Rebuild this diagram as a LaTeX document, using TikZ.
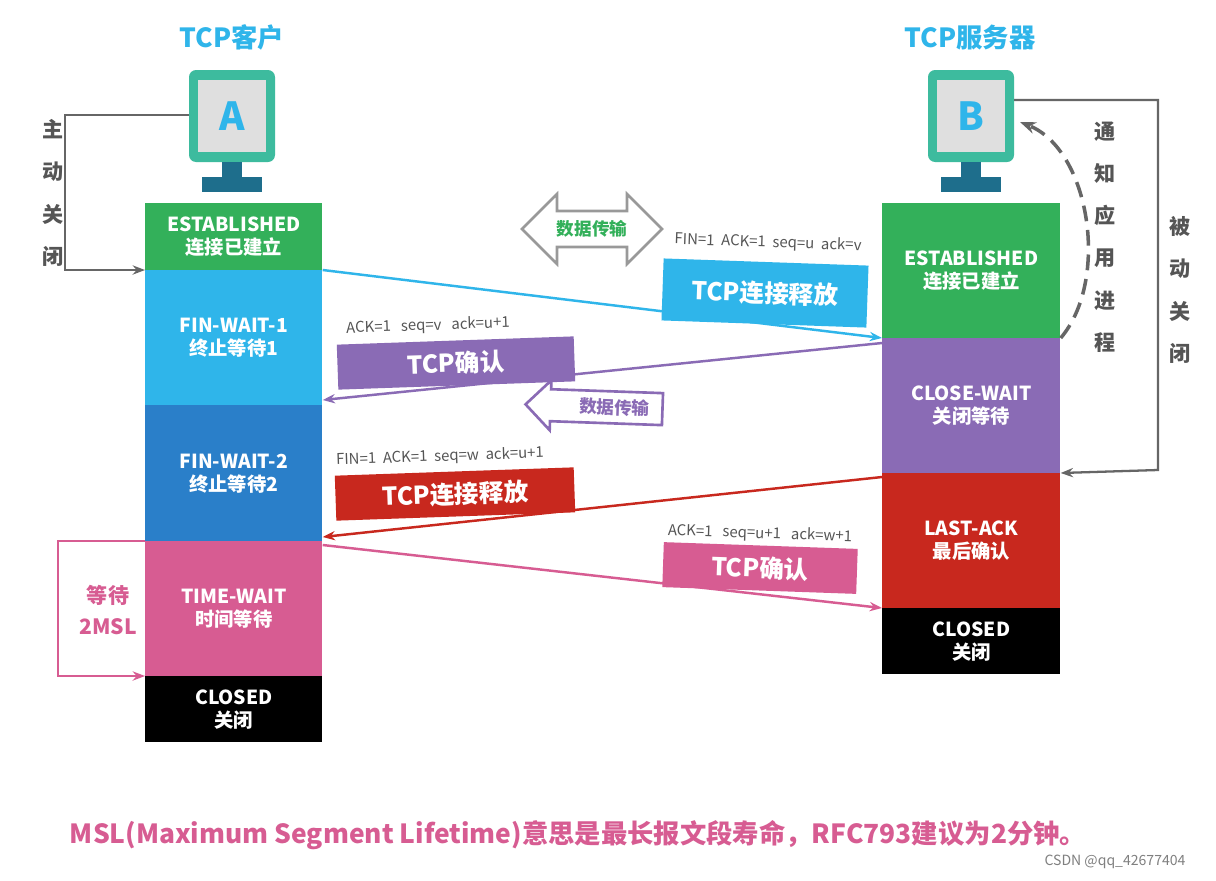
\documentclass[tikz,border=0pt]{standalone}
\usepackage{fontspec}
\setmainfont{Noto Sans CJK SC}
\usetikzlibrary{arrows.meta,shapes.arrows}
\definecolor{cgreen}{HTML}{33B05A}
\definecolor{clblue}{HTML}{2FB5EA}
\definecolor{cblue}{HTML}{2A7FC9}
\definecolor{cpink}{HTML}{D75C92}
\definecolor{cpurple}{HTML}{8A6BB5}
\definecolor{cred}{HTML}{C8281E}
\definecolor{cteal}{HTML}{3DBB9E}
\definecolor{cstand}{HTML}{1E6E8C}
\definecolor{cgray}{HTML}{555555}
\begin{document}
\begin{tikzpicture}[x=0.02cm,y=-0.02cm,
 st/.style={draw=none,inner sep=0pt,text=white,align=center,font=\bfseries\fontsize{11}{13}\selectfont},
 msg/.style={inner sep=0pt,text=white,font=\bfseries\fontsize{14}{16}\selectfont},
 lab/.style={inner sep=0pt,text=cgray,font=\fontsize{8.5}{9}\selectfont},
 vt/.style={inner sep=0pt,text=cgray,align=center,font=\bfseries\fontsize{12}{24}\selectfont},
 ln/.style={line width=1.4pt,-{Stealth[length=7pt]}}]
\useasboundingbox (0,0) rectangle (1216,880);
\fill[white] (0,0) rectangle (1216,880);
% titles
\node[text=clblue,font=\bfseries\fontsize{15}{17}\selectfont] (tA) at (232,37) {TCP客户};
\node[text=clblue,font=\bfseries\fontsize{15}{17}\selectfont] (tB) at (970,37) {TCP服务器};
% monitors
\foreach \c/\l in {232/A,971/B}{
 \fill[cteal,rounded corners=4pt] (\c-43,70) rectangle (\c+43,162);
 \fill[gray!25] (\c-34,80) rectangle (\c+34,152);
 \node[text=clblue,font=\bfseries\fontsize{22}{24}\selectfont] at (\c,116) {\l};
 \fill[cstand] (\c-10,162) rectangle (\c+10,177);
 \fill[cstand] (\c-30,177) rectangle (\c+30,192);
}
\coordinate (mA) at (189,115);
\coordinate (mB) at (1014,100);
\coordinate (mB2) at (1020,122);
% left states
\node[st,fill=cgreen,minimum width=177*0.02cm,minimum height=67*0.02cm,anchor=north west] (a1) at (145,203) {ESTABLISHED\\连接已建立};
\node[st,fill=clblue,minimum width=177*0.02cm,minimum height=135*0.02cm,anchor=north west] (a2) at (145,270) {FIN-WAIT-1\\终止等待1};
\node[st,fill=cblue,minimum width=177*0.02cm,minimum height=136*0.02cm,anchor=north west] (a3) at (145,405) {FIN-WAIT-2\\终止等待2};
\node[st,fill=cpink,minimum width=177*0.02cm,minimum height=135*0.02cm,anchor=north west] (a4) at (145,541) {TIME-WAIT\\时间等待};
\node[st,fill=black,minimum width=177*0.02cm,minimum height=66*0.02cm,anchor=north west] (a5) at (145,676) {CLOSED\\关闭};
% right states
\node[st,fill=cgreen,minimum width=178*0.02cm,minimum height=135*0.02cm,anchor=north west] (b1) at (882,203) {ESTABLISHED\\连接已建立};
\node[st,fill=cpurple,minimum width=178*0.02cm,minimum height=135*0.02cm,anchor=north west] (b2) at (882,338) {CLOSE-WAIT\\关闭等待};
\node[st,fill=cred,minimum width=178*0.02cm,minimum height=135*0.02cm,anchor=north west] (b3) at (882,473) {LAST-ACK\\最后确认};
\node[st,fill=black,minimum width=178*0.02cm,minimum height=66*0.02cm,anchor=north west] (b4) at (882,608) {CLOSED\\关闭};
% message boxes
\node[msg,fill=clblue,minimum width=205*0.02cm,minimum height=62*0.02cm,rotate=-2] (m1) at (765,293) {TCP连接释放};
\node[msg,fill=cpurple,minimum width=237*0.02cm,minimum height=45*0.02cm,rotate=2] (m2) at (456,363) {TCP确认};
\node[msg,fill=cred,minimum width=239*0.02cm,minimum height=45*0.02cm,rotate=2] (m3) at (455,494) {TCP连接释放};
\node[msg,fill=cpink,minimum width=194*0.02cm,minimum height=45*0.02cm,rotate=-2] (m4) at (760,568) {TCP确认};
\node[lab,rotate=-2] (l1) at (768,243) {FIN=1\ \ ACK=1\ \ seq=u\ \ ack=v};
\node[lab,rotate=2] (l2) at (428,326) {ACK=1\ \ \ seq=v\ \ \ ack=u+1};
\node[lab,rotate=2] (l3) at (440,457) {FIN=1\ \ ACK=1\ \ seq=w\ \ ack=u+1};
\node[lab,rotate=-2] (l4) at (760,534) {ACK=1\ \ \ seq=u+1\ \ \ ack=w+1};
% message lines
\draw[ln,clblue] (a2.north east) -- (b2.north west);
\draw[ln,cpurple] ([yshift=-0.1cm]b2.north west) -- ([yshift=0.1cm]a3.north east);
\draw[ln,cred] ([yshift=-0.08cm]b3.north west) -- ([yshift=0.08cm]a4.north east);
\draw[ln,cpink] ([yshift=-0.08cm]a4.north east) -- (b4.north west);
% data transfer arrows
\node[double arrow,draw=gray!80,line width=1.5pt,fill=white,minimum width=70*0.02cm,minimum height=140*0.02cm,double arrow head extend=0.25cm,inner sep=2pt,text=cgreen,font=\bfseries\fontsize{10}{12}\selectfont] (d1) at (592,229) {数据传输};
\node[single arrow,shape border rotate=180,draw=cpurple,line width=1.5pt,fill=white,minimum width=50*0.02cm,minimum height=137*0.02cm,single arrow head extend=0.15cm,inner sep=2pt,text=cpurple,font=\bfseries\fontsize{10}{12}\selectfont,rotate=-2] (d2) at (602,407) {\hspace{0.5cm}数据传输};
% active close
\draw[gray!80!black,line width=1.3pt,-{Stealth[length=7pt]}] (mA) -- (65,115) -- (65,270) -- (a2.north west);
\node[vt] (v1) at (53,193) {主\\动\\关\\闭};
% passive close
\draw[gray!80!black,line width=1.3pt,-{Stealth[length=7pt]}] (mB) -- (1158,100) -- (1158,470) -- (b3.north east);
\node[vt] (v2) at (1180,290) {被\\动\\关\\闭};
\draw[gray!80!black,line width=2pt,dash pattern=on 9pt off 5pt,-{Stealth[length=9pt]}] (b2.north east) .. controls (1110,280) and (1090,150) .. (mB2);
\node[vt] (v3) at (1105,237) {通\\知\\应\\用\\进\\程};
% wait 2MSL
\draw[cpink,line width=1.3pt,-{Stealth[length=7pt]}] (a4.north west) -- (58,541) -- (58,676) -- (a5.north west);
\node[vt,text=cpink,font=\bfseries\fontsize{12}{18}\selectfont] (v4) at (108,610) {等待\\2MSL};
% footer
\node[text=cpink,font=\bfseries\fontsize{15}{17}\selectfont] (f) at (578,835) {MSL(Maximum Segment Lifetime)意思是最长报文段寿命，RFC793建议为2分钟。};
\node[text=gray,font=\fontsize{8}{9}\selectfont] (c) at (1115,862) {CSDN @qq\_42677404};
\end{tikzpicture}
\end{document}
